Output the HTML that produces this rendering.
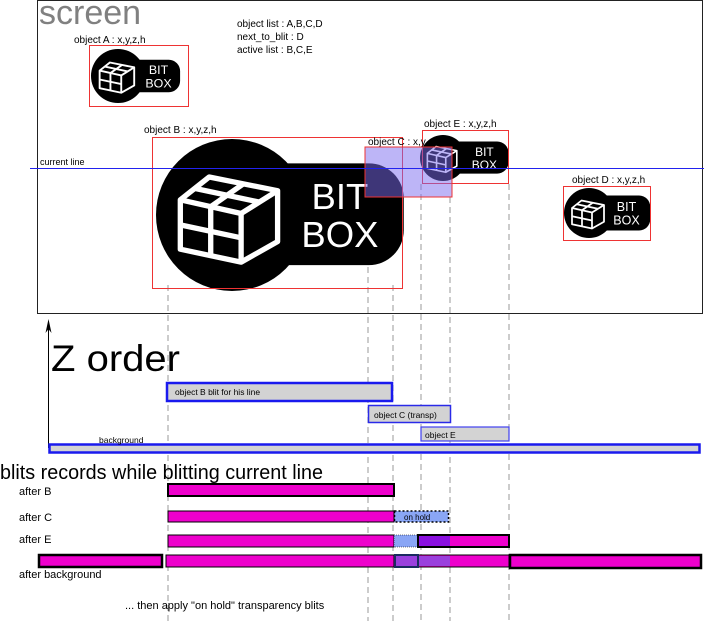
<!DOCTYPE html>
<html><head><meta charset="utf-8"><style>
html,body{margin:0;padding:0;background:#fff;}
svg{display:block;font-family:"Liberation Sans",sans-serif;}
</style></head><body>
<svg width="704" height="621" viewBox="0 0 704 621" xmlns="http://www.w3.org/2000/svg">
<defs>
<g id="cube" fill="none" stroke="#fff" stroke-width="0.07" stroke-linejoin="round">
  <polygon points="-0.68,-0.2 -0.3,-0.5 0.6,-0.32 0.6,0.35 0.12,0.62 -0.68,0.45"/>
  <polyline points="-0.68,-0.2 0.12,-0.02 0.6,-0.32"/>
  <line x1="0.12" y1="-0.02" x2="0.12" y2="0.62"/>
  <line x1="-0.28" y1="-0.11" x2="-0.28" y2="0.54"/>
  <line x1="-0.68" y1="0.13" x2="0.12" y2="0.3"/>
  <line x1="-0.49" y1="-0.35" x2="0.36" y2="-0.17"/>
  <line x1="0.15" y1="-0.41" x2="-0.28" y2="-0.11"/>
</g>
</defs>
<rect x="37.5" y="0.5" width="665" height="313" fill="#fff" stroke="#222" stroke-width="1"/>
<text x="39" y="24" font-size="34" fill="#808080">screen</text>
<text x="237" y="27" font-size="10">object list : A,B,C,D</text>
<text x="237" y="40" font-size="10">next_to_blit : D</text>
<text x="237" y="53" font-size="10">active list : B,C,E</text>

<g stroke="#999" stroke-width="1" stroke-dasharray="6,4">
<line x1="168" y1="285" x2="168" y2="621"/>
<line x1="368" y1="197" x2="368" y2="621"/>
<line x1="393" y1="285" x2="393" y2="621"/>
<line x1="421" y1="184" x2="421" y2="621"/>
<line x1="450" y1="197" x2="450" y2="621"/>
<line x1="509" y1="184" x2="509" y2="621"/>
</g>

<text x="74" y="43" font-size="10">object A : x,y,z,h</text>
<g transform="translate(118,76) scale(27)">
<circle r="1" fill="#000"/><rect x="0" y="-0.6" width="2.3" height="1.2" rx="0.42" fill="#000"/>
<use href="#cube"/>
<text x="1.5" y="-0.08" font-size="0.46" fill="#fff" text-anchor="middle">BIT</text>
<text x="1.5" y="0.42" font-size="0.46" fill="#fff" text-anchor="middle">BOX</text>
</g>
<rect x="89.5" y="45.5" width="99" height="61" fill="none" stroke="#e33" stroke-width="1"/>

<text x="144" y="133" font-size="10">object B : x,y,z,h</text>
<g transform="translate(232,215) scale(76)">
<circle r="1" fill="#000"/><rect x="0" y="-0.68" width="2.26" height="1.34" rx="0.46" fill="#000"/>
<use href="#cube"/>
<text x="1.42" y="-0.08" font-size="0.48" fill="#fff" text-anchor="middle">BIT</text>
<text x="1.42" y="0.42" font-size="0.48" fill="#fff" text-anchor="middle">BOX</text>
</g>
<rect x="152.5" y="137.5" width="250" height="151" fill="none" stroke="#e33" stroke-width="1"/>

<text x="424" y="127" font-size="10">object E : x,y,z,h</text>
<g transform="translate(443,158) scale(23)">
<circle r="1" fill="#000"/><rect x="0" y="-0.72" width="2.85" height="1.4" rx="0.5" fill="#000"/>
<use href="#cube"/>
<text x="1.8" y="-0.08" font-size="0.52" fill="#fff" text-anchor="middle">BIT</text>
<text x="1.8" y="0.48" font-size="0.52" fill="#fff" text-anchor="middle">BOX</text>
</g>
<rect x="422.5" y="130.5" width="86" height="53" fill="none" stroke="#e33" stroke-width="1"/>

<text x="368" y="145" font-size="10">object C : x,y</text>
<rect x="365" y="147" width="87" height="50" fill="#7b6cf0" fill-opacity="0.5" stroke="#e33" stroke-width="1"/>

<text x="572" y="183" font-size="10">object D : x,y,z,h</text>
<g transform="translate(589,213) scale(25)">
<circle r="1" fill="#000"/><rect x="0" y="-0.7" width="2.45" height="1.4" rx="0.45" fill="#000"/>
<use href="#cube"/>
<text x="1.5" y="-0.08" font-size="0.5" fill="#fff" text-anchor="middle">BIT</text>
<text x="1.5" y="0.46" font-size="0.5" fill="#fff" text-anchor="middle">BOX</text>
</g>
<rect x="563.5" y="186.5" width="87" height="54" fill="none" stroke="#e33" stroke-width="1"/>

<line x1="30" y1="168.5" x2="704" y2="168.5" stroke="#2222ee" stroke-width="1"/>
<text x="40" y="165" font-size="9">current line</text>

<line x1="48.5" y1="448" x2="48.5" y2="324" stroke="#000" stroke-width="1"/>
<polygon points="48.5,319 45.5,333 48.5,329 51.5,333" fill="#000"/>
<text x="51" y="371" font-size="37" textLength="129" lengthAdjust="spacingAndGlyphs">Z order</text>
<rect x="167" y="383" width="225" height="18" fill="#d3d3d3" stroke="#1a1aee" stroke-width="2.5"/>
<text x="175" y="395" font-size="8.5">object B blit for his line</text>
<rect x="368.5" y="405.5" width="82" height="17" fill="#d3d3d3" stroke="#2a2ae8" stroke-width="1.5"/>
<text x="374" y="418" font-size="8.5">object C (transp)</text>
<rect x="421" y="427" width="88" height="14" fill="#d3d3d3" stroke="#4040f0" stroke-width="1.2"/>
<text x="425" y="438" font-size="8.5">object E</text>
<rect x="49.5" y="444.5" width="650" height="8" fill="#d3d3d3" stroke="#1a1aee" stroke-width="2.5"/>
<text x="99" y="443" font-size="8.5">background</text>

<text x="0" y="479" font-size="20" textLength="323" lengthAdjust="spacingAndGlyphs">blits records while blitting current line</text>
<text x="19" y="495" font-size="11">after B</text>
<text x="19" y="521" font-size="11">after C</text>
<text x="19" y="543" font-size="11">after E</text>
<text x="19" y="578" font-size="11">after background</text>
<text x="125" y="609" font-size="11">... then apply "on hold" transparency blits</text>

<rect x="168" y="484" width="226" height="12" fill="#ee00cc" stroke="#000" stroke-width="2"/>

<rect x="168" y="511" width="226" height="11" fill="#ee00cc" stroke="#000" stroke-width="1"/>
<rect x="394.5" y="511" width="54" height="11" fill="#8aa6f5" stroke="#000" stroke-width="1.5" stroke-dasharray="2,2"/>
<text x="404" y="520" font-size="8">on hold</text>

<rect x="168" y="535" width="226" height="12" fill="#ee00cc" stroke="#000" stroke-width="1"/>
<rect x="394" y="535" width="24" height="12" fill="#8aa6f5" stroke="#000" stroke-width="0.6" stroke-dasharray="1,1"/>
<rect x="418" y="535" width="91" height="12" fill="#ee00cc" stroke="#000" stroke-width="2"/>
<rect x="419" y="536" width="31" height="10" fill="#8a10e0"/>

<rect x="39" y="555" width="123" height="12" fill="#ee00cc" stroke="#000" stroke-width="2.5"/>
<rect x="166" y="555" width="228" height="12" fill="#ee00cc" stroke="#000" stroke-width="1"/>
<rect x="418" y="555" width="91" height="12" fill="#ee00cc" stroke="#000" stroke-width="1"/>
<rect x="419" y="556" width="31" height="10" fill="#9a40dd"/>
<rect x="395" y="555" width="23" height="12" fill="#9a40dd" stroke="#1a2a60" stroke-width="2"/>
<rect x="510" y="555" width="191" height="13" fill="#ee00cc" stroke="#000" stroke-width="2.5"/>
</svg>
</body></html>
